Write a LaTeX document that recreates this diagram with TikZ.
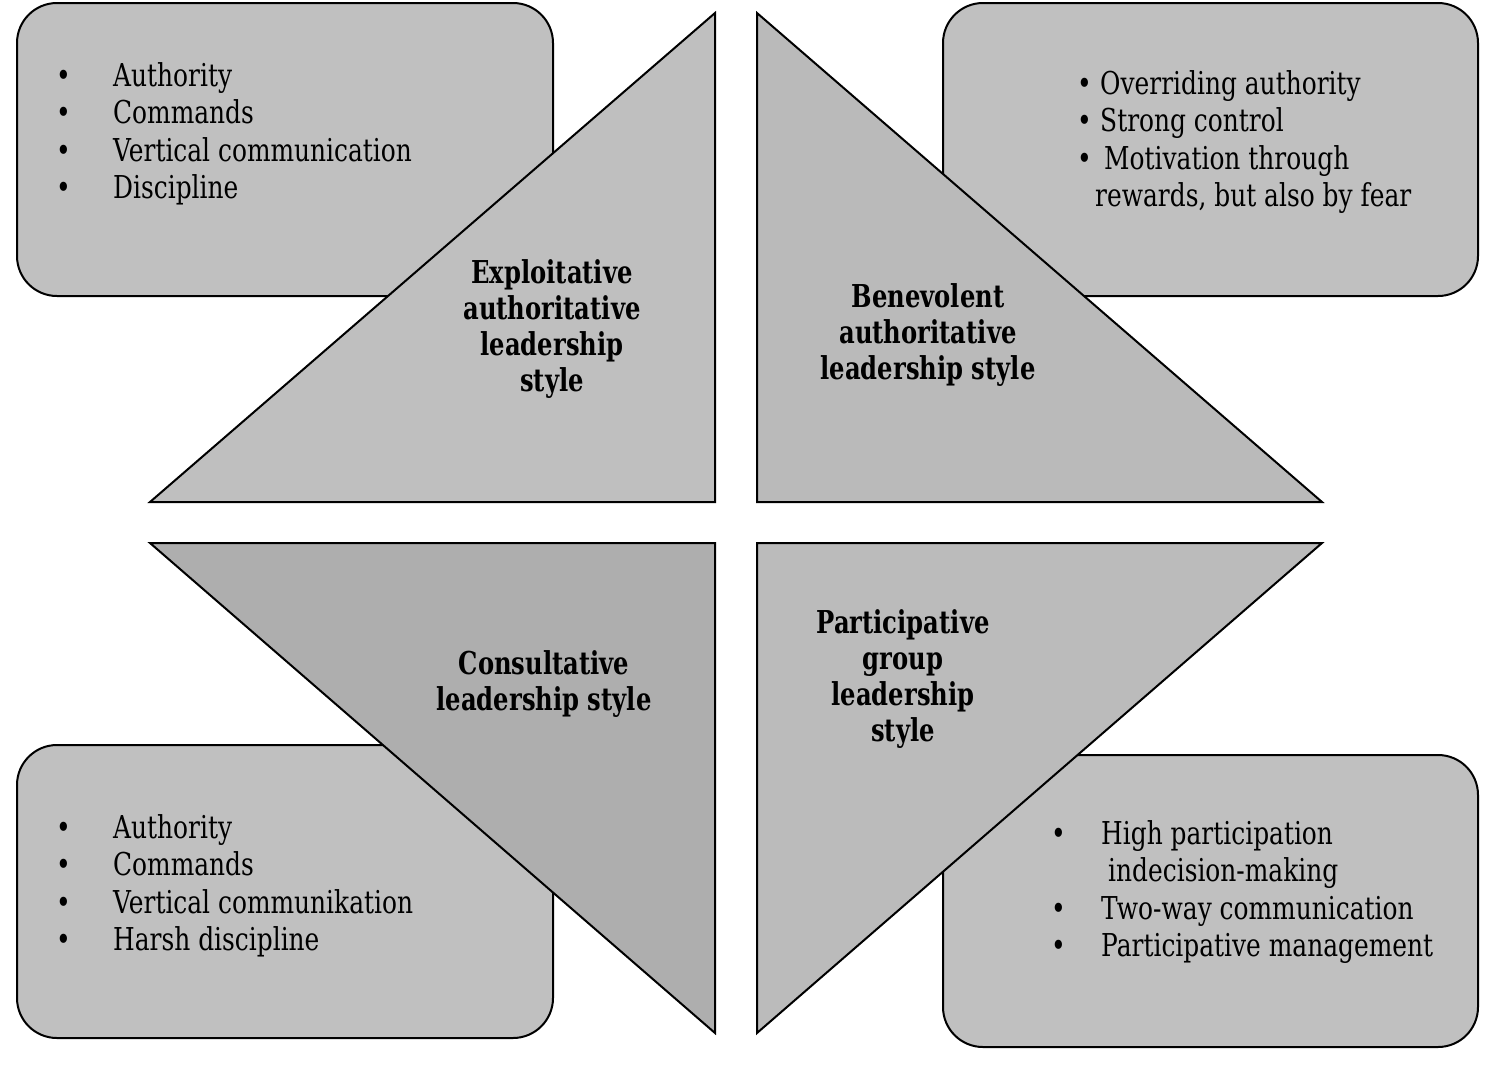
\documentclass[tikz,border=0pt]{standalone}
\usepackage{fontspec}
\setmainfont{DejaVu Serif}[FakeStretch=0.79, BoldFeatures={FakeStretch=0.77}]
\definecolor{boxgray}{HTML}{C0C0C0}
\definecolor{triA}{HTML}{BFBFBF}
\definecolor{triB}{HTML}{BABABA}
\definecolor{triC}{HTML}{AEAEAE}
\definecolor{triD}{HTML}{BBBBBB}
\newcommand{\itemdot}[1]{\makebox[#1][l]{\textbullet}}
\tikzset{
  infobox/.style={draw=black, line width=2pt, fill=boxgray, rounded corners=40pt},
  wedge/.style={draw=black, line width=2pt, line join=miter},
  listtext/.style={inner sep=0pt, anchor=north west, align=left, font=\fontsize{31.5}{37.5}\selectfont},
  styletitle/.style={inner sep=0pt, align=center, font=\fontsize{31.5}{36}\selectfont\bfseries}
}
\begin{document}
\begin{tikzpicture}[x=1pt, y=-1pt]
        \useasboundingbox (0,0) rectangle (1512,1069);

        \draw[infobox] (17,3) rectangle (553,296);
        \draw[infobox] (943,3) rectangle (1478,296);
        \draw[infobox] (17,745) rectangle (553,1038);
        \draw[infobox] (943,755) rectangle (1478,1047);

        \filldraw[wedge, fill=triA] (150,502) -- (715,13) -- (715,502) -- cycle;
        \filldraw[wedge, fill=triB] (757,13) -- (757,502) -- (1322,502) -- cycle;
        \filldraw[wedge, fill=triC] (150,543) -- (715,543) -- (715,1033) -- cycle;
        \filldraw[wedge, fill=triD] (757,543) -- (1322,543) -- (757,1033) -- cycle;

        \node[listtext] (exploitList) at (56,62) {\itemdot{57pt}Authority\\ \itemdot{57pt}Commands\\ \itemdot{57pt}Vertical communication\\ \itemdot{57pt}Discipline};
        \node[listtext] (benevolentList) at (1077,70) {\itemdot{23pt}Overriding authority\\ \itemdot{23pt}Strong control\\ \itemdot{23pt}\hspace{4pt}Motivation through\\ \hspace{18pt}rewards, but also by fear};
        \node[listtext] (consultList) at (56,814) {\itemdot{57pt}Authority\\ \itemdot{57pt}Commands\\ \itemdot{57pt}Vertical communikation\\ \itemdot{57pt}Harsh discipline};
        \node[listtext] (participList) at (1051,820) {\itemdot{50pt}High participation\\ \hspace{57pt}indecision-making\\ \itemdot{50pt}Two-way communication\\ \itemdot{50pt}Participative management};

        \node[styletitle] (exploitTitle) at (552,329) {Exploitative\\ authoritative\\ leadership\\ style};
        \node[styletitle] (benevolentTitle) at (928,335) {Benevolent\\ authoritative\\ leadership style};
        \node[styletitle] (consultTitle) at (544,684) {Consultative\\ leadership style};
        \node[styletitle] (participTitle) at (903,679) {Participative\\ group\\ leadership\\ style};
\end{tikzpicture}
\end{document}
